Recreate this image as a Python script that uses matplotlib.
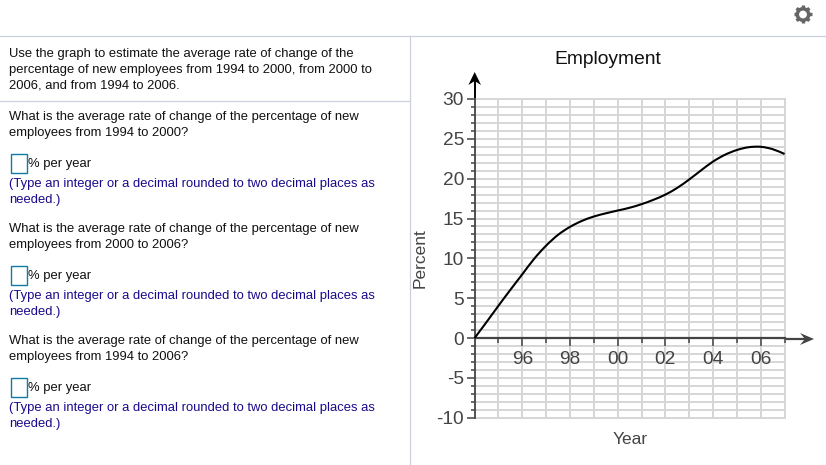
import matplotlib
matplotlib.use("Agg")
import matplotlib.pyplot as plt
from matplotlib.path import Path
from matplotlib.patches import PathPatch, Polygon
import numpy as np

plt.rcParams['font.family'] = ['Liberation Sans', 'DejaVu Sans']

W, H = 826, 465

# curve, half year steps
years = [94, 94.5, 95, 95.5, 96, 96.5, 97, 97.5, 98, 98.5, 99, 99.5, 100,
         100.5, 101, 101.5, 102, 102.5, 103, 103.5, 104, 104.5, 105, 105.5,
         106, 106.5, 107]
percent = [0, 2.0, 4.05, 6.05, 8.0, 9.95, 11.6, 12.95, 13.95, 14.7, 15.25, 15.65, 16.0,
           16.35, 16.8, 17.35, 18.0, 18.85, 19.9, 21.05, 22.15, 23.0, 23.6, 23.95,
           24.0, 23.7, 23.1]

xtick_pos = [96, 98, 100, 102, 104, 106]
xtick_labels = ['96', '98', '00', '02', '04', '06']
ytick_pos = [-10, -5, 0, 5, 10, 15, 20, 25, 30]
ytick_labels = ['-10', '-5', '0', '5', '10', '15', '20', '25', '30']

black_lines = [
    (54, "Use the graph to estimate the average rate of change of the"),
    (70, "percentage of new employees from 1994 to 2000, from 2000 to"),
    (86, "2006, and from 1994 to 2006."),
    (117, "What is the average rate of change of the percentage of new"),
    (133, "employees from 1994 to 2000?"),
    (229, "What is the average rate of change of the percentage of new"),
    (245, "employees from 2000 to 2006?"),
    (341, "What is the average rate of change of the percentage of new"),
    (357, "employees from 1994 to 2006?"),
]
answer_rows = [164, 276, 388]
hint_1 = "(Type an integer or a decimal rounded to two decimal places as"
hint_2 = "needed.)"

fig = plt.figure(figsize=(W / 100, H / 100), dpi=100)

# page layer in pixel coordinates
page = fig.add_axes([0, 0, 1, 1])
page.set_xlim(0, W)
page.set_ylim(H, 0)
page.axis('off')

rule = '#ccd0dc'
page.plot([0, W], [36, 36], color=rule, lw=0.9)
page.plot([0, 410], [101, 101], color=rule, lw=0.9)
page.plot([410, 410], [36, H], color=rule, lw=0.9)

fs = 9.35
for y, s in black_lines:
    page.text(9, y, s, fontsize=fs, color='#111111', va='center')
for y in answer_rows:
    page.add_patch(plt.Rectangle((10.5, y - 10), 16, 19, fill=False, ec='#0a7f9f', lw=1.0))
    page.text(28, y, "% per year", fontsize=fs, color='#111111', va='center')
    page.text(9, y + 19.5, hint_1, fontsize=fs, color='#1a0a8c', va='center')
    page.text(9, y + 35.5, hint_2, fontsize=fs, color='#1a0a8c', va='center')

page.text(608, 59, "Employment", fontsize=13.9, color='#111111', ha='center', va='center')
page.text(630, 439, "Year", fontsize=12.5, color='#444444', ha='center', va='center')
page.text(420, 258, "Percent", fontsize=12.5, color='#444444', ha='center', va='center', rotation=90)

# settings gear
gear = '#666666'
for a in np.arange(0, np.pi, np.pi / 4):
    page.plot([803 - 9 * np.cos(a), 803 + 9 * np.cos(a)],
              [14.5 - 9 * np.sin(a), 14.5 + 9 * np.sin(a)],
              color=gear, lw=2.4, solid_capstyle='butt', zorder=2)
page.add_patch(plt.Circle((803, 14.5), 6.8, color=gear, zorder=3))
page.add_patch(plt.Circle((803, 14.5), 3.2, color='white', zorder=4))

# axis arrows
page.plot([474.7, 474.7], [99, 80], color='black', lw=1.4)
page.add_patch(Polygon([(474.7, 72), (481, 85), (474.7, 81), (468.4, 85)], closed=True, color='black', lw=0))
page.plot([785, 806], [339, 339], color='#444444', lw=1.6)
page.add_patch(Polygon([(814, 339), (800, 333), (805, 339), (800, 345)], closed=True, color='#444444', lw=0))

# graph
ax = fig.add_axes([474.6 / W, 1 - 417.7 / H, 310 / W, 318.7 / H])
ax.patch.set_alpha(0)
ax.set_xlim(94, 107)
ax.set_ylim(-10, 30)

for y in range(-10, 31):
    ax.axhline(y, color='#d6d6d6', lw=1.4, zorder=1, clip_on=False)
for x in range(95, 108):
    ax.axvline(x, color='#d6d6d6', lw=1.4, zorder=1, clip_on=False)

for s in ['top', 'right']:
    ax.spines[s].set_visible(False)
ax.spines['left'].set_color('#444444')
ax.spines['left'].set_linewidth(1.3)
ax.spines['bottom'].set_position(('data', 0))
ax.spines['bottom'].set_color('#444444')
ax.spines['bottom'].set_linewidth(1.6)

ax.set_xticks(xtick_pos)
ax.set_xticklabels(xtick_labels)
ax.set_xticks(range(95, 108, 2), minor=True)
ax.set_yticks(ytick_pos)
ax.set_yticklabels(ytick_labels)
ax.set_yticks(range(-10, 31), minor=True)
ax.tick_params(axis='x', which='major', length=5.5, width=1.1, color='#444444', labelsize=13.8, labelcolor='#444444', pad=4)
ax.tick_params(axis='x', which='minor', length=3.5, width=1.1, color='#444444')
ax.tick_params(axis='y', which='major', length=6, width=1.1, color='#444444', labelsize=13.8, labelcolor='#444444', pad=1.6)
ax.tick_params(axis='y', which='minor', length=3, width=1.1, color='#444444')

# smooth the curve through the read values with bezier segments
xs = np.array(years, dtype=float)
ys = np.array(percent, dtype=float)
dx = np.gradient(xs)
dy = np.gradient(ys)
verts = [(xs[0], ys[0])]
codes = [Path.MOVETO]
for i in range(len(xs) - 1):
    verts += [(xs[i] + dx[i] / 3, ys[i] + dy[i] / 3),
              (xs[i + 1] - dx[i + 1] / 3, ys[i + 1] - dy[i + 1] / 3),
              (xs[i + 1], ys[i + 1])]
    codes += [Path.CURVE4, Path.CURVE4, Path.CURVE4]
ax.add_patch(PathPatch(Path(verts, codes), fill=False, ec='black', lw=1.5, zorder=5, clip_on=False))

fig.savefig('out.png', dpi=100)
